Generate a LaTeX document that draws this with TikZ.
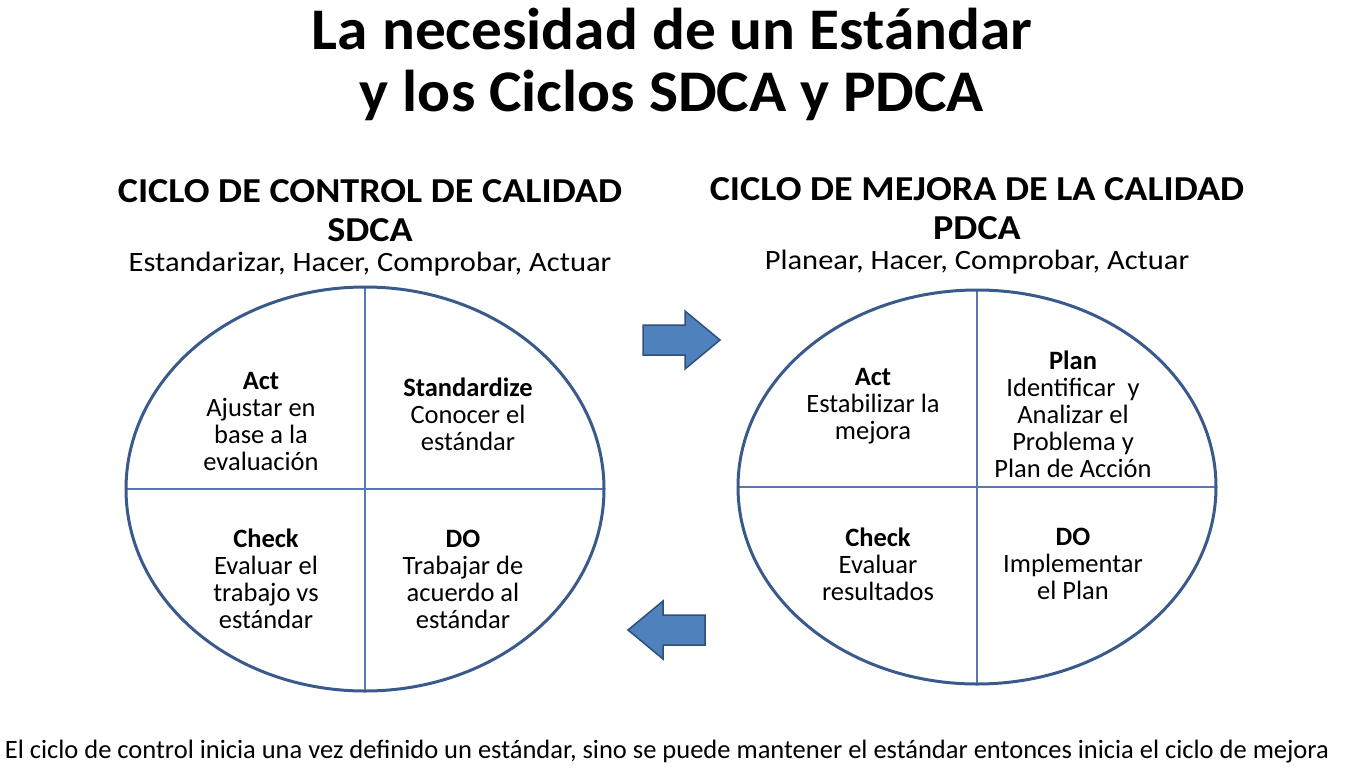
\documentclass[tikz,border=0pt]{standalone}
\usepackage{fontspec}
\setmainfont{Carlito}
\newfontfamily\widefont{Carlito}[FakeStretch=1.09]
\newfontfamily\titlefont{Carlito}[FakeStretch=1.04]
\begin{document}
\begin{tikzpicture}[x=1pt,y=-1pt,
  ring/.style={draw=ringc,line width=3pt},
  divider/.style={draw=divc,line width=1.2pt},
  qtext/.style={align=center,font=\fontsize{26.5}{27}\selectfont},
  head/.style={align=center,font=\widefont\bfseries\fontsize{35}{39}\selectfont},
  sub/.style={font=\widefont\fontsize{28}{30}\selectfont},
  blockarrow/.style={draw=arrc,fill=arrf,line width=1.5pt,line join=miter}]
\definecolor{ringc}{HTML}{3A5A8C}
\definecolor{divc}{HTML}{5579B0}
\definecolor{arrc}{HTML}{2F4E7C}
\definecolor{arrf}{HTML}{4F81BD}
\useasboundingbox (0,0) rectangle (1365,771);
\node[font=\titlefont\bfseries\fontsize{59}{62}\selectfont,align=center] (title) at (672,64) {La necesidad de un Estándar\\y los Ciclos SDCA y PDCA};
% left
\node[head] (lh) at (370,211) {CICLO DE CONTROL DE CALIDAD\\SDCA};
\node[sub] (ls) at (370,264) {Estandarizar, Hacer, Comprobar, Actuar};
\coordinate (lc) at (365,489);
\draw[divider] (365,287) -- (365,691);
\draw[divider] (126,489) -- (604,489);
\draw[ring] (lc) ellipse (239 and 202);
\node[qtext] (la) at (261,421) {\textbf{Act}\\Ajustar en\\base a la\\evaluación};
\node[qtext] (ls2) at (468,414) {\textbf{Standardize}\\Conocer el\\estándar};
\node[qtext] (lk) at (266,579) {\textbf{Check}\\Evaluar el\\trabajo vs\\estándar};
\node[qtext] (ld) at (463,579) {\textbf{DO}\\Trabajar de\\acuerdo al\\estándar};
% right
\node[head] (rh) at (977,209) {CICLO DE MEJORA DE LA CALIDAD\\PDCA};
\node[sub] (rs) at (977,262) {Planear, Hacer, Comprobar, Actuar};
\coordinate (rc) at (977,487);
\draw[divider] (977,290) -- (977,684);
\draw[divider] (738,487) -- (1216,487);
\draw[ring] (rc) ellipse (239 and 197);
\node[qtext] (ra) at (873,406) {\textbf{Act}\\Estabilizar la\\mejora};
\node[qtext] (rp) at (1073,414) {\textbf{Plan}\\Identificar~ y\\Analizar el\\Problema y\\Plan de Acción};
\node[qtext] (rk) at (878,564) {\textbf{Check}\\Evaluar\\resultados};
\node[qtext] (rd) at (1073,564) {\textbf{DO}\\Implementar\\el Plan};
% arrows
\draw[blockarrow] (643,325) -- (685,325) -- (685,311) -- (720,340) -- (685,369) -- (685,355) -- (643,355) -- cycle;
\draw[blockarrow] (705,615) -- (663,615) -- (663,601) -- (628,630) -- (663,659) -- (663,645) -- (705,645) -- cycle;
\node[font=\fontsize{26.5}{28}\selectfont] (foot) at (667,752) {El ciclo de control inicia una vez definido un estándar, sino se puede mantener el estándar entonces inicia el ciclo de mejora};
\end{tikzpicture}
\end{document}
